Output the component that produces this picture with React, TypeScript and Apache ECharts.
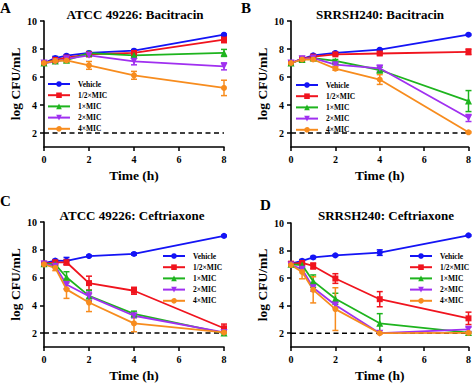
import React, { useEffect, useRef } from "react";
import * as echarts from "echarts";

const times = [0, 0.5, 1, 2, 4, 8];
const seriesNames = ["Vehicle", "1/2×MIC", "1×MIC", "2×MIC", "4×MIC"];
const colors = ["#1414f5", "#f0141e", "#1eb41e", "#a030f0", "#f78c1e"];
const symbols = ["circle", "rect", "triangle", "triangle", "circle"];
const panelTitles = [
  "ATCC 49226: Bacitracin",
  "SRRSH240: Bacitracin",
  "ATCC 49226: Ceftriaxone",
  "SRRSH240: Ceftriaxone",
];
const panelLetters = ["A", "B", "C", "D"];
const yTicks = [2, 4, 6, 8, 10];
const detectionLimit = 2;

// Panel A: ATCC 49226, Bacitracin
const aMeans = [
  [7.0, 7.35, 7.52, 7.72, 7.88, 9.02],
  [7.0, 7.22, 7.38, 7.62, 7.72, 8.67],
  [7.0, 7.15, 7.2, 7.7, 7.55, 7.72],
  [7.0, 7.1, 7.3, 7.55, 7.12, 6.76],
  [7.0, 7.15, 7.18, 6.83, 6.12, 5.22],
];
const aErrors = [
  [0.05, 0.12, 0.08, 0.08, 0.08, 0.05],
  [0.05, 0.1, 0.08, 0.1, 0.1, 0.22],
  [0.05, 0.08, 0.1, 0.12, 0.1, 0.25],
  [0.05, 0.1, 0.1, 0.1, 0.25, 0.25],
  [0.05, 0.08, 0.12, 0.28, 0.28, 0.55],
];
// Panel B: SRRSH240, Bacitracin
const bMeans = [
  [7.0, 7.3, 7.55, 7.72, 7.95, 9.02],
  [7.0, 7.3, 7.45, 7.62, 7.68, 7.8],
  [7.0, 7.25, 7.35, 7.15, 6.5, 4.28],
  [7.0, 7.3, 7.35, 6.88, 6.62, 3.07],
  [7.0, 7.25, 7.25, 6.6, 5.82, 2.05],
];
const bErrors = [
  [0.05, 0.06, 0.06, 0.06, 0.06, 0.05],
  [0.05, 0.08, 0.08, 0.08, 0.1, 0.2],
  [0.05, 0.08, 0.08, 0.1, 0.2, 0.75],
  [0.05, 0.08, 0.08, 0.1, 0.22, 0.25],
  [0.05, 0.08, 0.08, 0.12, 0.35, 0.05],
];
// Panel C: ATCC 49226, Ceftriaxone
const cMeans = [
  [7.03, 7.22, 7.2, 7.55, 7.7, 9.0],
  [7.0, 7.1, 7.1, 5.6, 5.05, 2.35],
  [7.0, 6.95, 6.02, 4.68, 3.38, 2.0],
  [6.98, 6.82, 5.5, 4.65, 3.25, 2.05],
  [6.95, 6.7, 5.15, 4.2, 2.7, 2.05],
];
const cErrors = [
  [0.05, 0.08, 0.25, 0.05, 0.08, 0.05],
  [0.05, 0.1, 0.2, 0.5, 0.25, 0.3],
  [0.05, 0.1, 0.4, 0.4, 0.2, 0.03],
  [0.05, 0.1, 0.3, 0.3, 0.15, 0.05],
  [0.05, 0.2, 0.65, 0.65, 0.6, 0.05],
];
// Panel D: SRRSH240, Ceftriaxone
const dMeans = [
  [7.05, 7.25, 7.5, 7.65, 7.85, 9.1],
  [7.05, 7.1, 6.88, 5.97, 4.47, 3.08],
  [7.0, 6.95, 5.78, 4.5, 2.72, 2.05],
  [6.95, 6.65, 5.3, 4.05, 2.0, 2.28],
  [6.95, 6.45, 5.15, 3.75, 2.0, 2.03],
];
const dErrors = [
  [0.05, 0.1, 0.08, 0.05, 0.2, 0.05],
  [0.05, 0.15, 0.22, 0.35, 0.55, 0.45],
  [0.05, 0.15, 0.45, 0.4, 0.7, 0.05],
  [0.05, 0.1, 0.25, 0.2, 0.03, 0.15],
  [0.05, 0.5, 0.95, 1.55, 0.03, 0.05],
];

const panelMeans = [aMeans, bMeans, cMeans, dMeans];
const panelErrors = [aErrors, bErrors, cErrors, dErrors];

const FONT = "Liberation Serif, serif";

const grids = [
  { left: 44, top: 21, width: 180, height: 126 },
  { left: 291, top: 21, width: 180, height: 126 },
  { left: 44, top: 222, width: 180, height: 125 },
  { left: 291, top: 223, width: 178, height: 125 },
];
const titlePos = [
  [135, 14],
  [380, 14],
  [132, 215],
  [386, 215],
];
const letterPos = [
  [0, 8],
  [241, 8],
  [0, 201],
  [260, 205],
];
const legendPos = [
  [47, 80],
  [295, 81],
  [162, 252],
  [409, 252],
];

export default function App() {
  const ref = useRef<HTMLDivElement>(null);
  useEffect(() => {
    if (!ref.current) return;
    const chart = echarts.init(ref.current, null, { renderer: "svg" });
    const axisLine = { lineStyle: { color: "#000", width: 1.6 } };
    const axisTick = { inside: false, length: 4, lineStyle: { color: "#000", width: 1.5 } };
    const labelStyle = { color: "#000", fontFamily: FONT, fontWeight: "bold" as const, fontSize: 10 };
    const nameStyle = { color: "#000", fontFamily: FONT, fontWeight: "bold" as const, fontSize: 13.5 };

    const xAxis = grids.map((_, i) => ({
      type: "value",
      gridIndex: i,
      min: 0,
      max: 8,
      interval: 2,
      name: "Time (h)",
      nameLocation: "middle",
      nameGap: 21,
      nameTextStyle: nameStyle,
      axisLine,
      axisTick,
      axisLabel: { ...labelStyle, margin: 7 },
      splitLine: { show: false },
    }));
    const yAxis = grids.map((_, i) => ({
      type: "value",
      gridIndex: i,
      min: 1,
      max: 10,
      name: "log CFU/mL",
      nameLocation: "middle",
      nameGap: 22,
      nameTextStyle: nameStyle,
      axisLine: { ...axisLine, onZero: false },
      axisTick: { ...axisTick, customValues: yTicks },
      axisLabel: { ...labelStyle, margin: 7, customValues: yTicks },
      splitLine: { show: false },
    }));

    const series: any[] = [];
    grids.forEach((_, p) => {
      series.push({
        type: "line",
        xAxisIndex: p,
        yAxisIndex: p,
        data: [
          [times[0], detectionLimit],
          [times[times.length - 1], detectionLimit],
        ],
        symbol: "none",
        lineStyle: { color: "#000", width: 1.5, type: [5, 3.5] },
        silent: true,
        z: 1,
      });
      seriesNames.forEach((name, s) => {
        const color = colors[s];
        series.push({
          type: "custom",
          xAxisIndex: p,
          yAxisIndex: p,
          clip: false,
          z: 2,
          encode: { x: 0, y: 1 },
          data: times.map((t, k) => [t, panelMeans[p][s][k], panelErrors[p][s][k]]),
          renderItem: (params: any, api: any) => {
            const x = api.value(0);
            const y = api.value(1);
            const e = api.value(2);
            const top = api.coord([x, y + e]);
            const bot = api.coord([x, y - e]);
            const c = top[0];
            const w = 3;
            const st = { stroke: color, lineWidth: 1.5 };
            return {
              type: "group",
              children: [
                { type: "line", shape: { x1: c, y1: top[1], x2: c, y2: bot[1] }, style: st },
                { type: "line", shape: { x1: c - w, y1: top[1], x2: c + w, y2: top[1] }, style: st },
                { type: "line", shape: { x1: c - w, y1: bot[1], x2: c + w, y2: bot[1] }, style: st },
              ],
            };
          },
        });
        series.push({
          type: "line",
          name,
          xAxisIndex: p,
          yAxisIndex: p,
          clip: false,
          z: 3,
          data: times.map((t, k) => [t, panelMeans[p][s][k]]),
          symbol: symbols[s],
          symbolRotate: s === 3 ? 180 : 0,
          symbolSize: s === 2 || s === 3 ? 7 : 6,
          lineStyle: { color, width: 1.8 },
          itemStyle: { color },
        });
      });
    });

    const legend = legendPos.map(([l, t]) => ({
      left: l,
      top: t,
      padding: 0,
      orient: "vertical",
      itemWidth: 22,
      itemHeight: 7,
      itemGap: 3.2,
      selectedMode: false,
      data: seriesNames,
      textStyle: {
        color: "#000",
        fontFamily: FONT,
        fontWeight: "bold",
        fontSize: 7.5,
        lineHeight: 7,
        padding: [0, 0, 0, 3],
      },
    }));

    const graphic: any[] = [];
    panelTitles.forEach((t, i) => {
      graphic.push({
        type: "text",
        x: titlePos[i][0],
        y: titlePos[i][1],
        style: {
          text: t,
          fill: "#000",
          fontFamily: FONT,
          fontWeight: "bold",
          fontSize: 13,
          textAlign: "center",
          textVerticalAlign: "middle",
        },
      });
      graphic.push({
        type: "text",
        x: letterPos[i][0],
        y: letterPos[i][1],
        style: {
          text: panelLetters[i],
          fill: "#000",
          fontFamily: FONT,
          fontWeight: "bold",
          fontSize: 15,
          textAlign: "left",
          textVerticalAlign: "middle",
        },
      });
    });

    chart.setOption({
      animation: false,
      backgroundColor: "#fff",
      grid: grids,
      xAxis,
      yAxis,
      legend,
      graphic,
      series,
    });
    return () => chart.dispose();
  }, []);
  return (
    <div
      ref={ref}
      style={{ position: "fixed", left: 0, top: 0, width: 474, height: 383 }}
    />
  );
}
